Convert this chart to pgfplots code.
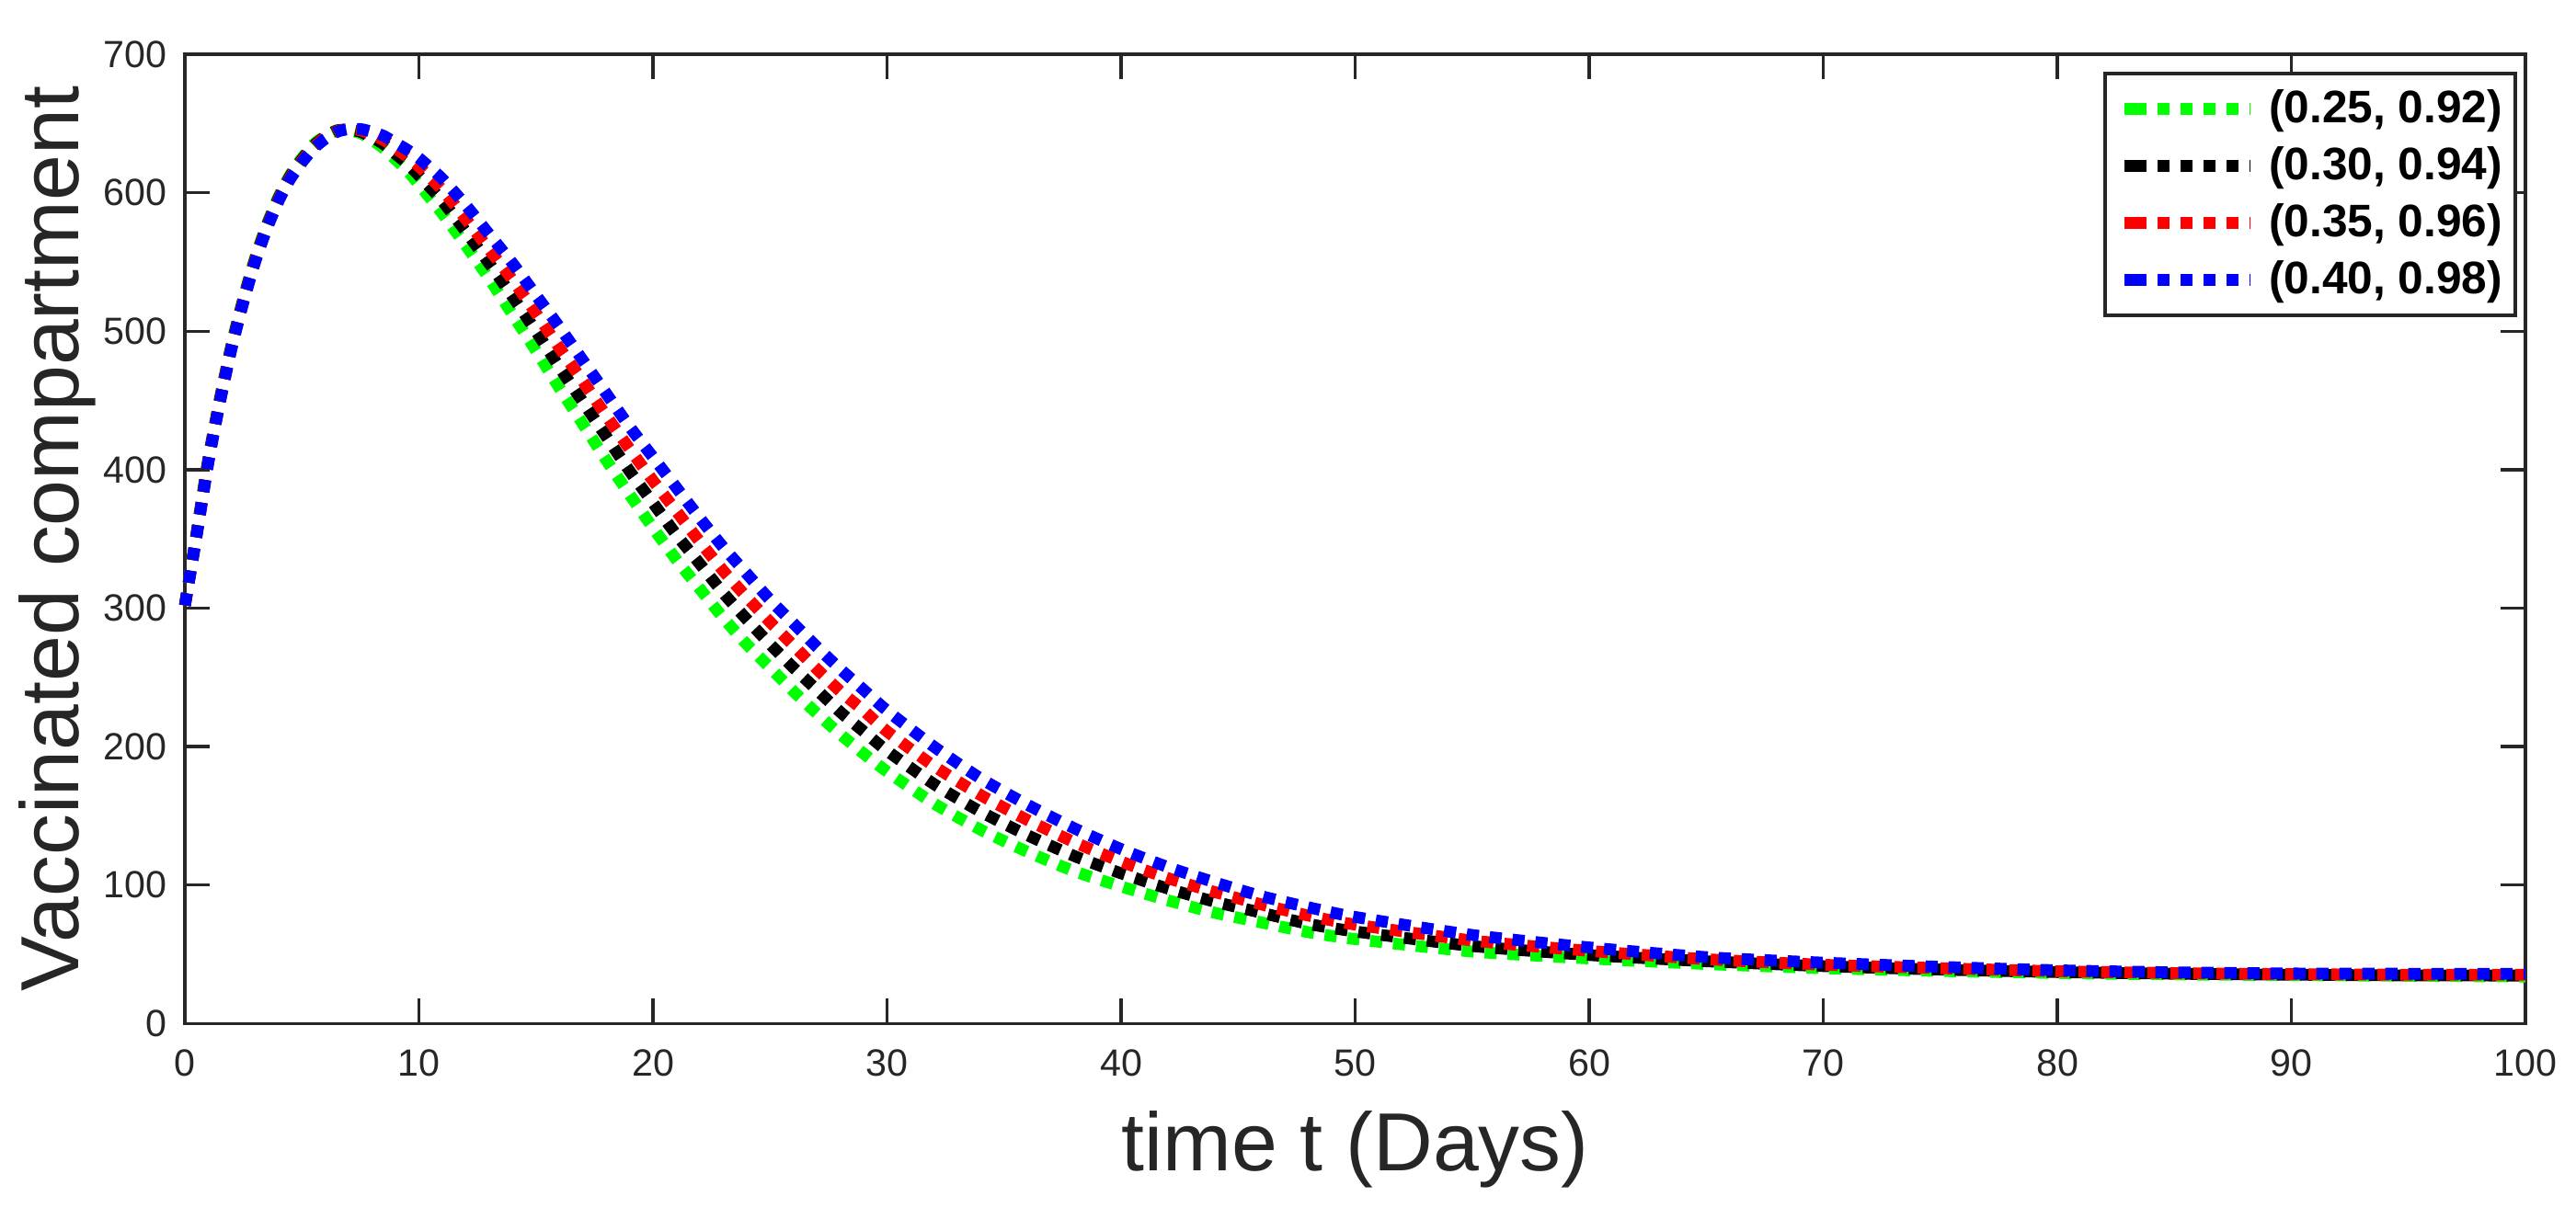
\documentclass[border=0pt]{standalone}
\usepackage{pgfplots}
\pgfplotsset{compat=1.18}
\usepackage{pgfplotstable}
\usepackage{fontspec}
\setmainfont{Liberation Sans}
\definecolor{axgray}{HTML}{262626}

\pgfplotstableread{
t g k r b
0 302 302 302 302
0.5 355 354 353 352
1 408 407 406 405
1.5 452 451 450 449
2 491 490 489 488
2.5 524 523 522 521
3 553 552 551 550
3.5 577 576 575 574
4 597 596 595 594
4.5 613 612 611 610
5 625 624 623 622
5.5 635 634 633 632
6 641 640.5 640 639
6.5 645 645 644.5 644
7 645 645.5 646 646
7.5 643 644 645 646
8 638 640 642 644
8.5 632 635 638 641
9 624 628 632 636
9.5 616 621 626 631
10 606 612.5 619 625
11 585 594 602 610
12 562 572 581 591
13 538 549 559 570
14 512 525 537 549
15 486 500 513 526
16 459 474 488 503
17 433 449 464 479
18 407 424 439 455
19 382 399 415 431
20 358 376 392 409
21 335 353 370 387
22 314 332 348 365
23 293 311 327 344
24 274 292 308 325
25 257 274 290 306
26 240 257 273 289
27 224 241 256 272
28 209 225 240 256
29 195 211 226 241
30 182 197 211 226
32 159 173 186 200
34 140 153 165 177
36 124 136 147 158
38 110 121 131 141
40 99 108.5 117 126
42 89 97.5 105 113
44 80 88 95 102
46 73 80 86 92
48 66 72 78 84
50 61 66.5 71.5 77
55 52 56 60 64
60 47 49.5 52.5 55
65 43 45 46.5 48
70 40 41.5 42.5 44
75 38 39 40 41
80 36.5 37.2 37.8 38.5
85 35.5 36 36.5 37
90 35 35.3 35.7 36.2
95 34.5 34.8 35.3 36
100 34 34.7 35.3 35.9
}\datatable

\begin{document}
\begin{tikzpicture}
\useasboundingbox (-50.25pt,-50pt) rectangle (649.75pt,278.25pt);
\begin{axis}[
  at={(0,0)}, anchor=south west,
  scale only axis, width=636pt, height=263.5pt,
  xmin=0, xmax=100, ymin=0, ymax=700,
  xtick={0,10,...,100}, ytick={0,100,...,700},
  tick align=inside, xtick pos=both, ytick pos=both,
  xticklabel pos=lower, yticklabel pos=left,
  major tick length=6.75pt,
  axis line style={line width=0.85pt, draw=axgray},
  every tick/.style={line width=0.85pt, draw=axgray},
  tick label style={font=\fontsize{10.3}{12}\selectfont, text=axgray, inner sep=0pt},
  /pgf/number format/assume math mode=true,
  yticklabel style={xshift=-4.8pt},
  xticklabel style={yshift=-7pt},
  label style={font=\fontsize{22.4}{26}\selectfont, text=axgray},
  xlabel={time t (Days)},
  ylabel={Vaccinated compartment},
  xlabel style={at={(axis description cs:0.5,-0.1518)}, anchor=base},
  ylabel style={at={(axis description cs:-0.0456,0.5)}, anchor=base},
  clip=false,
  legend style={at={(axis description cs:1,1)}, xshift=-2.25pt, yshift=-4.75pt,
    anchor=north east, draw=axgray, line width=1pt,
    inner xsep=3.5pt, inner ysep=3.375pt,
    font=\bfseries\fontsize{12.4}{15}\selectfont,
    nodes={inner sep=0pt, text height=10pt, text depth=2.5pt},
    row sep=3pt, column sep=3.5pt},
  legend cell align=left,
  legend image code/.code={\path (0pt,0pt) -- (2.75pt,0pt); \draw[#1] (2.75pt,0pt) -- (34.25pt,0pt);},
  every axis plot/.append style={line width=3.2pt, dash pattern=on 3.3pt off 2.95pt, smooth, tension=0.4},
]
\addplot[color={rgb,1:red,0;green,1;blue,0}] table[x=t,y=g] {\datatable};
\addlegendentry{(0.25, 0.92)}
\addplot[color=black] table[x=t,y=k] {\datatable};
\addlegendentry{(0.30, 0.94)}
\addplot[color={rgb,1:red,1;green,0;blue,0}] table[x=t,y=r] {\datatable};
\addlegendentry{(0.35, 0.96)}
\addplot[color={rgb,1:red,0;green,0;blue,1}] table[x=t,y=b] {\datatable};
\addlegendentry{(0.40, 0.98)}
\end{axis}
\end{tikzpicture}
\end{document}
